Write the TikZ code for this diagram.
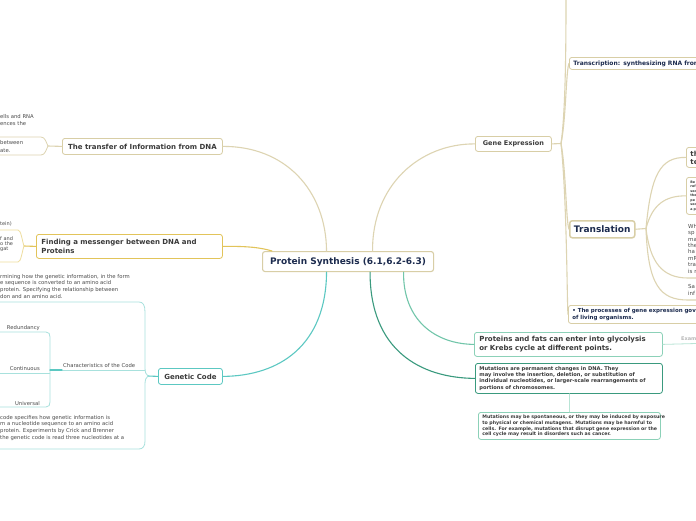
\documentclass[tikz,border=0pt]{standalone}
\usepackage{fontspec}
\setmainfont{DejaVu Sans}
\definecolor{tanc}{HTML}{DDD4B2}
\definecolor{tanb}{HTML}{D8CEA6}
\definecolor{yel}{HTML}{E2C45A}
\definecolor{yell}{HTML}{EEDD9E}
\definecolor{teal}{HTML}{5CC8C2}
\definecolor{teall}{HTML}{A8E1DD}
\definecolor{grn}{HTML}{72C6AA}
\definecolor{grnl}{HTML}{8CD1B8}
\definecolor{grnd}{HTML}{3A9A7E}
\definecolor{grnx}{HTML}{B8E4D5}
\definecolor{navy}{HTML}{1C2B4E}
\definecolor{dgray}{HTML}{3A3A3A}
\definecolor{mgray}{HTML}{4A4A4A}
\newcommand\fsz[2]{\fontsize{#1}{#2}\selectfont}
\tikzset{
  conn/.style={line width=1.1pt, line cap=round},
  thinconn/.style={line width=0.8pt, line cap=round},
  box/.style={draw=tanb, line width=0.8pt, rounded corners=2.5pt, fill=white,
    inner xsep=4pt, inner ysep=0pt, text=dgray, anchor=north west},
  lbox/.style={box, align=left},
  ftext/.style={inner sep=0pt, anchor=north west, align=left, text=mgray},
}
\begin{document}
\begin{tikzpicture}[x=1pt,y=-1pt]
\useasboundingbox (0,0) rectangle (696,520);
\fill[white] (0,0) rectangle (696,520);
\clip (0,0) rectangle (696,520);

% ---------- nodes ----------
\node[box, draw=tanb, line width=1.1pt, text=navy, minimum width=171pt, minimum height=20pt,
  font=\bfseries\fsz{9}{11}] (root) at (262,251) {Protein Synthesis (6.1,6.2-6.3)};

\node[box, minimum width=160pt, minimum height=16pt, font=\bfseries\fsz{7}{8.4}]
  (transfer) at (62,138) {The transfer of Information from DNA};
\node[lbox, draw=yel, minimum width=186pt, minimum height=24pt, text width=176pt,
  inner xsep=5pt, font=\bfseries\fsz{7}{9.3}]
  (messenger) at (36,234) {\mbox{Finding a messenger between DNA and}\\\mbox{Proteins}};
\node[box, draw=teal, minimum width=64pt, minimum height=16pt, font=\bfseries\fsz{7}{8.4}]
  (genetic) at (158,368) {Genetic Code};

\node[box, minimum width=76pt, minimum height=15pt, font=\bfseries\fsz{6.5}{8}]
  (geneexp) at (475,136) {Gene Expression};
\node[lbox, draw=grnl, minimum width=188pt, minimum height=24pt, text width=178pt,
  font=\bfseries\fsz{7}{9}]
  (proteins) at (474,332) {\mbox{Proteins and fats can enter into glycolysis}\\\mbox{or Krebs cycle at different points.}};
\node[lbox, draw=grnd, minimum width=187pt, minimum height=30pt, text width=179pt,
  font=\bfseries\fsz{5.15}{6.3}]
  (mut1) at (475,363) {\mbox{Mutations are permanent changes in DNA. They}\\\mbox{may involve the insertion, deletion, or substitution of}\\\mbox{individual nucleotides, or larger-scale rearrangements of}\\\mbox{portions of chromosomes.}};
\node[lbox, draw=grnl, minimum width=182pt, minimum height=27pt, text width=174pt,
  font=\bfseries\fsz{4.7}{5.7}]
  (mut2) at (478,412) {\mbox{Mutations may be spontaneous, or they may be induced by exposure}\\\mbox{to physical or chemical mutagens. Mutations may be harmful to}\\\mbox{cells. For example, mutations that disrupt gene expression or the}\\\mbox{cell cycle may result in disorders such as cancer.}};

\node[lbox, text=navy, minimum width=150pt, minimum height=12pt, text width=142pt,
  font=\bfseries\fsz{6}{7}]
  (transcription) at (569,57) {\mbox{Transcription: synthesizing RNA from}};
\node[box, text=navy, line width=1.5pt, minimum width=65pt, minimum height=17pt,
  font=\bfseries\fsz{9}{11}]
  (translation) at (569,220) {Translation};
\node[lbox, text=navy, minimum width=150pt, minimum height=18pt, text width=142pt,
  font=\bfseries\fsz{5.5}{6.2}]
  (processes) at (568,305) {\mbox{\textbullet{} The processes of gene expression govern}\\\mbox{of living organisms.}};

\node[lbox, minimum width=30pt, minimum height=20pt, text width=22pt,
  font=\bfseries\fsz{7}{8}] (thbox) at (686,147) {th\\te};
\node[lbox, minimum width=30pt, minimum height=37pt, text width=22pt,
  font=\bfseries\fsz{3.3}{4.5}] (smallbox) at (686,177) {Be\\ref\\sec\\the\\pe\\sec\\a p};
\node[ftext, font=\fsz{5.5}{6.4}] (whtext) at (688,224) {Wh\\sp\\ma\\the\\ha\\mR\\tra\\is r};
\node[ftext, font=\fsz{5.5}{6.8}] (satext) at (688,284) {Sa\\inf};
\node[ftext, text=black!28, font=\bfseries\fsz{5}{6}] (exam) at (681,337) {Exam};

% left fragments
\node[ftext, font=\fsz{5.3}{7}] (cellstext) at (0,114) {ells and RNA\\ences the};
\node[ftext, font=\fsz{5.3}{7.8}] (betweentext) at (0,140) {between\\ate.};
\node[ftext, font=\fsz{5}{6}] (teintext) at (0,221) {tein)};
\node[ftext, font=\fsz{5}{5.2}] (fandtext) at (0,236) {f and\\o the\\gat};
\node[ftext, font=\fsz{5.3}{6.7}] (gctop) at (0,274) {rmining how the genetic information, in the form\\e sequence is converted to an amino acid\\ protein. Specifying the relationship between\\don and an amino acid.};
\node[ftext, font=\fsz{5.3}{6.7}] (gcbot) at (0,415) {code specifies how genetic information is\\m a nucleotide sequence to an amino acid\\ protein. Experiments by Crick and Brenner\\the genetic code is read three nucleotides at a};
\node[ftext, font=\fsz{5.3}{6}, anchor=base east] (redund) at (40,329) {Redundancy};
\node[ftext, font=\fsz{5.3}{6}, anchor=base east] (contin) at (40,370) {Continuous};
\node[ftext, font=\fsz{5.3}{6}, anchor=base east] (univ) at (40,405) {Universal};
\node[ftext, font=\fsz{5.3}{6}, anchor=base west] (charac) at (63,367) {Characteristics of the Code};

% ---------- main connectors ----------
\draw[conn, tanc] ([xshift=-21.5pt]root.north) .. controls (326,190) and (285,146) .. (transfer.east);
\draw[conn, tanc] ([xshift=24.5pt]root.north) .. controls (372,185) and (420,143.5) .. (geneexp.west);
\draw[conn, yel] (messenger.east) .. controls (250,246) and (262,248) .. ([xshift=10pt]root.north west);
\draw[conn, teal] ([xshift=-21.5pt]root.south) .. controls (326,345) and (280,376) .. (genetic.east);
\draw[conn, grn] ([xshift=55.5pt]root.south) .. controls (403,320) and (435,344) .. (proteins.west);
\draw[conn, grnd] ([xshift=22pt]root.south) .. controls (370,350) and (420,378) .. (mut1.west);
\draw[thinconn, grnx] (mut1.south) -- (mut1.south |- mut2.north);
\draw[thinconn, grnx] (proteins.east) -- (696,343.5);

% ---------- gene expression fork ----------
\coordinate (gef) at (561,143.5);
\draw[conn, tanc] (geneexp.east) -- (gef);
\draw[conn, tanc] (gef) .. controls (566,120) and (566,70) .. (transcription.west);
\draw[conn, tanc] (gef) .. controls (566,110) and (566,30) .. (566,-5);
\draw[conn, tanc] (gef) .. controls (566,170) and (566,222) .. (translation.west);
\draw[conn, tanc] (gef) .. controls (567,200) and (567,305) .. (processes.west);

% ---------- translation fork ----------
\coordinate (trf) at (646,228.5);
\coordinate (wline) at (688,278);
\coordinate (sline) at (688,300);
\draw[conn, tanc] (translation.east) -- (trf);
\draw[conn, tanc] (trf) .. controls (651,175) and (660,157) .. (thbox.west);
\draw[conn, tanc] (trf) .. controls (652,205) and (665,195.5) .. (smallbox.west);
\draw[conn, tanc] (trf) .. controls (650,262) and (662,278) .. (wline) -- (696,278);
\draw[conn, tanc] (trf) .. controls (648,285) and (660,300) .. (sline) -- (696,300);

% ---------- left side ----------
\coordinate (tfk) at (48,146);
\draw[conn, tanc] (transfer.west) -- (tfk);
\draw[thinconn, tanc] (0,137) -- (41,137) .. controls (45,137) and (46,142) .. (tfk)
  .. controls (46,150) and (45,155) .. (41,155) -- (0,155);

\coordinate (mfk) at (24,246);
\draw[conn, yel] (messenger.west) -- (mfk);
\draw[thinconn, yell] (0,230) -- (18,230) .. controls (21,230) and (22,240) .. (mfk)
  .. controls (22,252) and (21,262) .. (18,262) -- (0,262);

\coordinate (gcf) at (148,376);
\draw[conn, teal] (genetic.west) -- (gcf);
\draw[thinconn, teall] (0,302) -- (139,302) .. controls (143,302) and (145,305) .. (145,312)
  -- (145,368) .. controls (145,372) and (146,375) .. (gcf)
  .. controls (146,377) and (145,380) .. (145,384) -- (145,441)
  .. controls (145,446) and (143,449) .. (139,449) -- (0,449);
\draw[thinconn, teall] (50,370) -- (145,370);
\draw[thinconn, teall] (0,332) -- (46,332) .. controls (49,332) and (50,334) .. (50,337)
  -- (50,402) .. controls (50,405) and (49,407) .. (46,407) -- (0,407);
\draw[thinconn, teall] (0,373) -- (50,373);
\draw[conn, teal] (50,370) -- (62,370);
\end{tikzpicture}
\end{document}
